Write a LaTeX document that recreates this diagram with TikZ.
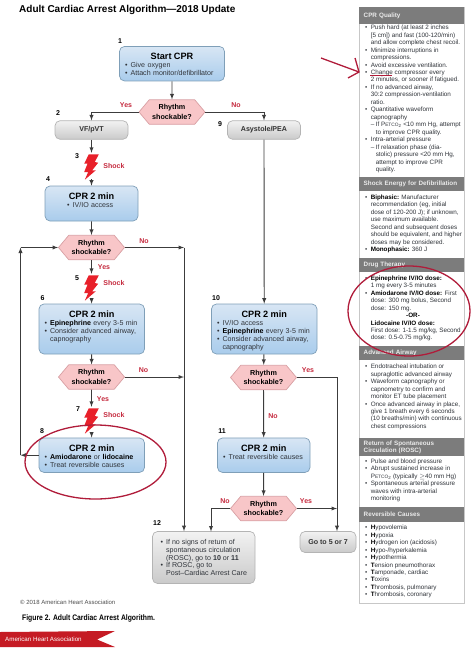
\documentclass[tikz,border=0pt]{standalone}
\usepackage{fontspec}
\setmainfont{Liberation Sans}
\usetikzlibrary{shapes.symbols}
\definecolor{flowline}{HTML}{3C3C3C}
\definecolor{boxedge}{HTML}{7F9FB8}
\definecolor{boxtop}{HTML}{D8E6F4}
\definecolor{boxbottom}{HTML}{A9CCEC}
\definecolor{greyedge}{HTML}{B4B4B4}
\definecolor{greytop}{HTML}{F2F2F2}
\definecolor{greybottom}{HTML}{CACACA}
\definecolor{hexfill}{HTML}{F8C6C8}
\definecolor{hexedge}{HTML}{D8A0A4}
\definecolor{labelred}{HTML}{C4283C}
\definecolor{boltred}{HTML}{E8202A}
\definecolor{markred}{HTML}{B01C3A}
\definecolor{panelgrey}{HTML}{7C7C7C}
\definecolor{bodytext}{HTML}{30343A}
\newcommand{\itm}{\makebox[5.6pt][l]{\textbullet}}
\newcommand{\ind}{\hspace*{5.6pt}}
\newcommand{\subitm}{\hspace*{5.6pt}\makebox[5pt][l]{--}}
\newcommand{\subind}{\hspace*{10.6pt}}
\newcommand{\petco}{P{\fontsize{4.8}{5}\selectfont ETCO}\textsubscript{2}}
\newcommand{\boxhead}[1]{\makebox[\linewidth][c]{\fontsize{9.15}{9}\selectfont\bfseries\color{black}#1}}
\newcommand{\bd}[1]{{\bfseries\color{black}#1}}
\tikzset{
  flow/.style={draw=flowline, line width=0.9pt, -latex},
  cprbox/.style={rounded corners=5pt, draw=boxedge, line width=0.7pt, top color=boxtop, bottom color=boxbottom, text=bodytext, align=left, inner ysep=0pt, inner xsep=5.5pt, text height=13.5pt, font=\fontsize{7.1}{8}\selectfont},
  greybox/.style={rounded corners=5pt, draw=greyedge, line width=0.7pt, top color=greytop, bottom color=greybottom, text=black!80, align=center, font=\fontsize{7.1}{8}\selectfont\bfseries},
  rhythm/.style={signal, signal to=east and west, signal pointer angle=100, draw=hexedge, fill=hexfill, line width=0.7pt, minimum width=66pt, minimum height=24.5pt, inner sep=0pt, align=center, font=\fontsize{7.2}{9.2}\selectfont\bfseries},
  stepnum/.style={font=\fontsize{7}{8}\selectfont\bfseries, inner sep=0pt},
  answer/.style={text=labelred, font=\fontsize{7}{8}\selectfont\bfseries, inner sep=0pt},
  boltspot/.style={minimum width=15pt, minimum height=26pt, inner sep=0pt},
  panelhead/.style={fill=panelgrey, text=white!92!black, anchor=north west, minimum width=105pt, text width=96pt, inner xsep=4.5pt, inner ysep=0pt, align=left, font=\fontsize{6.3}{7.4}\selectfont\bfseries},
  paneltext/.style={anchor=north west, inner sep=0pt, align=left, text=bodytext, font=\fontsize{6.3}{7.46}\selectfont},
  redmark/.style={draw=markred, line width=1.3pt},
  shockbolt/.pic={\fill[boltred] (-2.7,-11.7) -- (7.3,-11.7) -- (3.3,-4) -- (6.7,-3.3) -- (0.7,4.3) -- (4.3,4.3) -- (-6.7,13.7) -- (-3.3,6) -- (-7.3,6) -- (-4,-2.3) -- (-7.3,-2.3) -- cycle;}
}
\begin{document}
\begin{tikzpicture}[x=1pt, y=-1pt]
\useasboundingbox (0,0) rectangle (474,651);
\node[anchor=west, inner sep=0pt, font=\fontsize{10}{12}\selectfont\bfseries] (title) at (19,10) {Adult Cardiac Arrest Algorithm---2018 Update};
\node[cprbox, text width=94pt, text depth=21pt] (start) at (172,63.7) {\boxhead{Start CPR}\\ \itm Give oxygen\\ \itm Attach monitor/defibrillator};
\node[rhythm] (hexA) at (172,112) {Rhythm\\shockable?};
\node[greybox, minimum width=73pt, minimum height=18.5pt] (vfpvt) at (91.5,130) {VF/pVT};
\node[greybox, minimum width=73pt, minimum height=18.5pt] (asystole) at (264,130) {Asystole/PEA};
\node[boltspot] (shockA) at (91.5,166) {};
\node[cprbox, text width=72pt, inner xsep=10.5pt, text depth=21.5pt] (cprA) at (91.5,203.5) {\boxhead{CPR 2 min}\\ \hspace*{11.5pt}\itm IV/IO access};
\node[rhythm] (hexB) at (91.5,247.5) {Rhythm\\shockable?};
\node[boltspot] (shockB) at (91.5,287) {};
\node[cprbox, text width=94.5pt, text depth=36.5pt] (cprB) at (91.75,329) {\boxhead{CPR 2 min}\\ \itm \bd{Epinephrine} every 3-5 min\\ \itm Consider advanced airway,\\ \ind capnography};
\node[rhythm] (hexC) at (91.5,377) {Rhythm\\shockable?};
\node[boltspot] (shockC) at (91.5,420) {};
\node[cprbox, text width=94.5pt, text depth=21pt] (cprC) at (91.75,455.2) {\boxhead{CPR 2 min}\\ \itm \bd{Amiodarone} or \bd{lidocaine}\\ \itm Treat reversible causes};
\node[cprbox, text width=94.5pt, text depth=36.5pt] (cprD) at (264.25,329) {\boxhead{CPR 2 min}\\ \itm IV/IO access\\ \itm \bd{Epinephrine} every 3-5 min\\ \itm Consider advanced airway,\\ \ind capnography};
\node[rhythm] (hexD) at (263.5,377.5) {Rhythm\\shockable?};
\node[cprbox, text width=81.5pt, text depth=21pt] (cprE) at (263.75,455.2) {\boxhead{CPR 2 min}\\ \itm Treat reversible causes};
\node[rhythm] (hexE) at (263.5,508.5) {Rhythm\\shockable?};
\node[greybox, minimum width=102.5pt, minimum height=52pt, text=bodytext, align=left, font=\fontsize{7.1}{7.9}\selectfont] (ending) at (203.75,557.5) {\itm If no signs of return of\\ \ind spontaneous circulation\\ \ind (ROSC), go to \textbf{10} or \textbf{11}\\ \itm If ROSC, go to\\ \ind Post--Cardiac Arrest Care};
\node[greybox, minimum width=56pt, minimum height=21pt] (goback) at (328,542) {Go to 5 or 7};
\coordinate (loopbottom) at (20.5,455.2);
\coordinate (looptop) at (20.5,247.5);
\coordinate (gatherA) at (184,247.5);
\coordinate (gatherB) at (184,377);
\coordinate (sideA) at (337,377.5);
\coordinate (sideB) at (337,508.5);
\draw[flow] (start) -- (hexA);
\draw[flow] (hexA.west) -| (vfpvt.north);
\draw[flow] (hexA.east) -| (asystole.north);
\draw[flow] (vfpvt) -- (shockA);
\draw[flow] (shockA) -- (cprA);
\draw[flow] (cprA) -- (hexB);
\draw[flow] (hexB) -- (shockB);
\draw[flow] (shockB) -- (cprB);
\draw[flow] (cprB) -- (hexC);
\draw[flow] (hexC) -- (shockC);
\draw[flow] (shockC) -- (cprC);
\draw[flow] (asystole) -- (cprD);
\draw[flow] (cprD) -- (hexD);
\draw[flow] (hexD) -- (cprE);
\draw[flow] (cprE) -- (hexE);
\draw[flow] (cprC.west) -- (loopbottom);
\draw[flow] (loopbottom) -- (looptop);
\draw[flow] (looptop) -- (hexB.west);
\draw[flow] (hexB.east) -- (gatherA);
\draw[flow] (hexC.east) -- (gatherB);
\draw[flow] (gatherA) -- (gatherA |- ending.north);
\draw[flow] (hexD.east) -- (sideA) -- (sideA |- goback.north);
\draw[flow] (hexE.east) -- (sideB);
\draw[flow] (hexE.west) -| (211,531.5);
\pic at (shockA) {shockbolt};
\pic at (shockB) {shockbolt};
\pic at (shockC) {shockbolt};
\node[stepnum] (numA) at (120,41) {1};
\node[stepnum] (numB) at (58,113.5) {2};
\node[stepnum] (numC) at (77,156) {3};
\node[stepnum] (numD) at (48,179) {4};
\node[stepnum] (numE) at (77,278) {5};
\node[stepnum] (numF) at (42.5,298.5) {6};
\node[stepnum] (numG) at (78,409.5) {7};
\node[stepnum] (numH) at (42,431.5) {8};
\node[stepnum] (numI) at (220,124) {9};
\node[stepnum] (numJ) at (216,298) {10};
\node[stepnum] (numK) at (222,431.5) {11};
\node[stepnum] (numL) at (157,523.5) {12};
\node[answer] (ansA) at (126,105) {Yes};
\node[answer] (ansB) at (236,105) {No};
\node[answer] (ansC) at (144,241) {No};
\node[answer] (ansD) at (104,267.5) {Yes};
\node[answer] (ansE) at (143.5,370.5) {No};
\node[answer] (ansF) at (103,399) {Yes};
\node[answer] (ansG) at (308,370.5) {Yes};
\node[answer] (ansH) at (273,416) {No};
\node[answer] (ansI) at (225,501) {No};
\node[answer] (ansJ) at (306,501) {Yes};
\node[answer] (ansK) at (114,166) {Shock};
\node[answer] (ansL) at (114,282.5) {Shock};
\node[answer] (ansM) at (114,415) {Shock};
\node[draw=black!22, fill=white, line width=1pt, minimum width=105pt, minimum height=596pt, inner sep=0pt] (panel) at (411.5,305) {};
\node[panelhead, minimum height=17pt] (headA) at (359,7) {CPR Quality};
\node[paneltext] (bodyA) at (365,25) {\itm Push hard (at least 2 inches\\ \ind [5 cm]) and fast (100-120/min)\\ \ind and allow complete chest recoil.\\ \itm Minimize interruptions in\\ \ind compressions.\\ \itm Avoid excessive ventilation.\\ \itm Change compressor every\\ \ind 2 minutes, or sooner if fatigued.\\ \itm If no advanced airway,\\ \ind 30:2 compression-ventilation\\ \ind ratio.\\ \itm Quantitative waveform\\ \ind capnography\\ \subitm If \petco{} <10 mm Hg, attempt\\ \subind to improve CPR quality.\\ \itm Intra-arterial pressure\\ \subitm If relaxation phase (dia-\\ \subind stolic) pressure <20 mm Hg,\\ \subind attempt to improve CPR\\ \subind quality.};
\node[panelhead, minimum height=14pt] (headB) at (359,177) {Shock Energy for Defibrillation};
\node[paneltext] (bodyB) at (365,194.5) {\itm \bd{Biphasic:} Manufacturer\\ \ind recommendation (eg, initial\\ \ind dose of 120-200 J); if unknown,\\ \ind use maximum available.\\ \ind Second and subsequent doses\\ \ind should be equivalent, and higher\\ \ind doses may be considered.\\ \itm \bd{Monophasic:} 360 J};
\node[panelhead, minimum height=14pt] (headC) at (359,258) {Drug Therapy};
\node[paneltext] (bodyC) at (365,275.5) {\itm \bd{Epinephrine IV/IO dose:}\\ \ind 1 mg every 3-5 minutes\\ \itm \bd{Amiodarone IV/IO dose:} First\\ \ind dose: 300 mg bolus, Second\\ \ind dose: 150 mg.\\ \hspace*{41pt}\bd{-OR-}\\ \ind \bd{Lidocaine IV/IO dose:}\\ \ind First dose: 1-1.5 mg/kg, Second\\ \ind dose: 0.5-0.75 mg/kg.};
\node[panelhead, minimum height=14pt] (headD) at (359,346) {Advanced Airway};
\node[paneltext] (bodyD) at (365,364) {\itm Endotracheal intubation or\\ \ind supraglottic advanced airway\\ \itm Waveform capnography or\\ \ind capnometry to confirm and\\ \ind monitor ET tube placement\\ \itm Once advanced airway in place,\\ \ind give 1 breath every 6 seconds\\ \ind (10 breaths/min) with continuous\\ \ind chest compressions};
\node[panelhead, minimum height=18pt] (headE) at (359,438) {Return of Spontaneous\\Circulation (ROSC)};
\node[paneltext] (bodyE) at (365,458.5) {\itm Pulse and blood pressure\\ \itm Abrupt sustained increase in\\ \ind \petco{} (typically $\geq$40 mm Hg)\\ \itm Spontaneous arterial pressure\\ \ind waves with intra-arterial\\ \ind monitoring};
\node[panelhead, minimum height=15pt] (headF) at (359,507) {Reversible Causes};
\node[paneltext] (bodyF) at (365,525) {\itm \bd{H}ypovolemia\\ \itm \bd{H}ypoxia\\ \itm \bd{H}ydrogen ion (acidosis)\\ \itm \bd{H}ypo-/hyperkalemia\\ \itm \bd{H}ypothermia\\ \itm \bd{T}ension pneumothorax\\ \itm \bd{T}amponade, cardiac\\ \itm \bd{T}oxins\\ \itm \bd{T}hrombosis, pulmonary\\ \itm \bd{T}hrombosis, coronary};
\node[anchor=west, inner sep=0pt, text=black!70, font=\fontsize{6}{7}\selectfont] (copyline) at (20,602) {\textcopyright{} 2018 American Heart Association};
\node[anchor=west, inner sep=0pt, xscale=0.85, font=\fontsize{8}{9}\selectfont\bfseries] (figline) at (22,618) {Figure 2. Adult Cardiac Arrest Algorithm.};
\fill[boltred!85!black] (0,632) -- (115,631) -- (97,639.5) -- (115,647) -- (0,647) -- cycle;
\node[anchor=west, inner sep=0pt, text=white, font=\fontsize{6.2}{7}\selectfont] (banner) at (5,639.5) {American Heart Association};
\draw[redmark] (95.5,462) ellipse [x radius=70.5, y radius=37];
\draw[redmark] (409,311) ellipse [x radius=61, y radius=45];
\draw[redmark] (321,58) -- (359,72);
\draw[redmark] (355,58) -- (359,72) -- (348,78);
\draw[redmark, line width=0.6pt] (370,75.5) -- (392,75.5);
\end{tikzpicture}
\end{document}
